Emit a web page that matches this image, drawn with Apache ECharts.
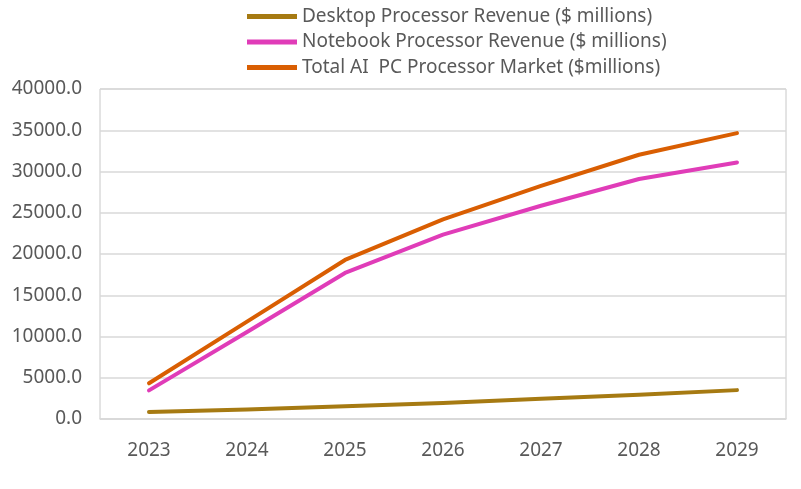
<!DOCTYPE html>
<html>
<head>
<meta charset="utf-8">
<script src="https://cdn.jsdelivr.net/npm/echarts@6/dist/echarts.min.js"></script>
<style>
  html, body { margin: 0; padding: 0; background: #fff; }
  #main { width: 801px; height: 489px; }
</style>
</head>
<body>
<div id="main"></div>
<script>
  // years on the x axis
  const years = ['2023', '2024', '2025', '2026', '2027', '2028', '2029'];
  // $ millions
  const desktopRevenue = [850, 1150, 1550, 1950, 2450, 2950, 3500];
  const notebookRevenue = [3470, 10550, 17700, 22340, 25850, 29090, 31100];
  const totalMarket = [4330, 11800, 19280, 24200, 28250, 32030, 34650];

  const seriesNames = [
    'Desktop Processor Revenue ($ millions)',
    'Notebook Processor Revenue ($ millions)',
    'Total AI  PC Processor Market ($millions)'
  ];
  const seriesColors = ['#A67A12', '#E03CB8', '#D95E02'];
  const seriesData = [desktopRevenue, notebookRevenue, totalMarket];

  const font = '"Noto Sans", "Open Sans", sans-serif';

  let chart = echarts.init(document.getElementById('main'));
  chart.setOption({
    animation: false,
    textStyle: { fontFamily: font },
    legend: {
      orient: 'vertical',
      left: 242,
      top: 1,
      itemWidth: 50,
      itemHeight: 5,
      itemGap: 4.5,
      icon: 'rect',
      textStyle: { fontSize: 19, color: '#595959', fontFamily: font, lineHeight: 21 },
      data: seriesNames
    },
    grid: {
      left: 100,
      right: 15,
      top: 89,
      bottom: 70,
      show: true,
      borderColor: '#c8c8c8',
      borderWidth: 1
    },
    xAxis: {
      type: 'category',
      data: years,
      boundaryGap: true,
      axisLine: { lineStyle: { color: '#d9d9d9', width: 1.5 } },
      axisTick: { show: false },
      axisLabel: { fontSize: 19, color: '#595959', margin: 22, fontFamily: font }
    },
    yAxis: {
      type: 'value',
      min: 0,
      max: 40000,
      interval: 5000,
      axisLine: { show: false },
      axisTick: { show: false },
      splitLine: { lineStyle: { color: '#d9d9d9', width: 1.5 } },
      axisLabel: {
        fontSize: 19,
        color: '#595959',
        margin: 18,
        fontFamily: font,
        formatter: v => v.toFixed(1)
      }
    },
    series: seriesNames.map((name, i) => ({
      name,
      type: 'line',
      data: seriesData[i],
      showSymbol: false,
      symbol: 'none',
      color: seriesColors[i],
      lineStyle: { width: 4, color: seriesColors[i], cap: 'round', join: 'round' }
    }))
  });
</script>
</body>
</html>
